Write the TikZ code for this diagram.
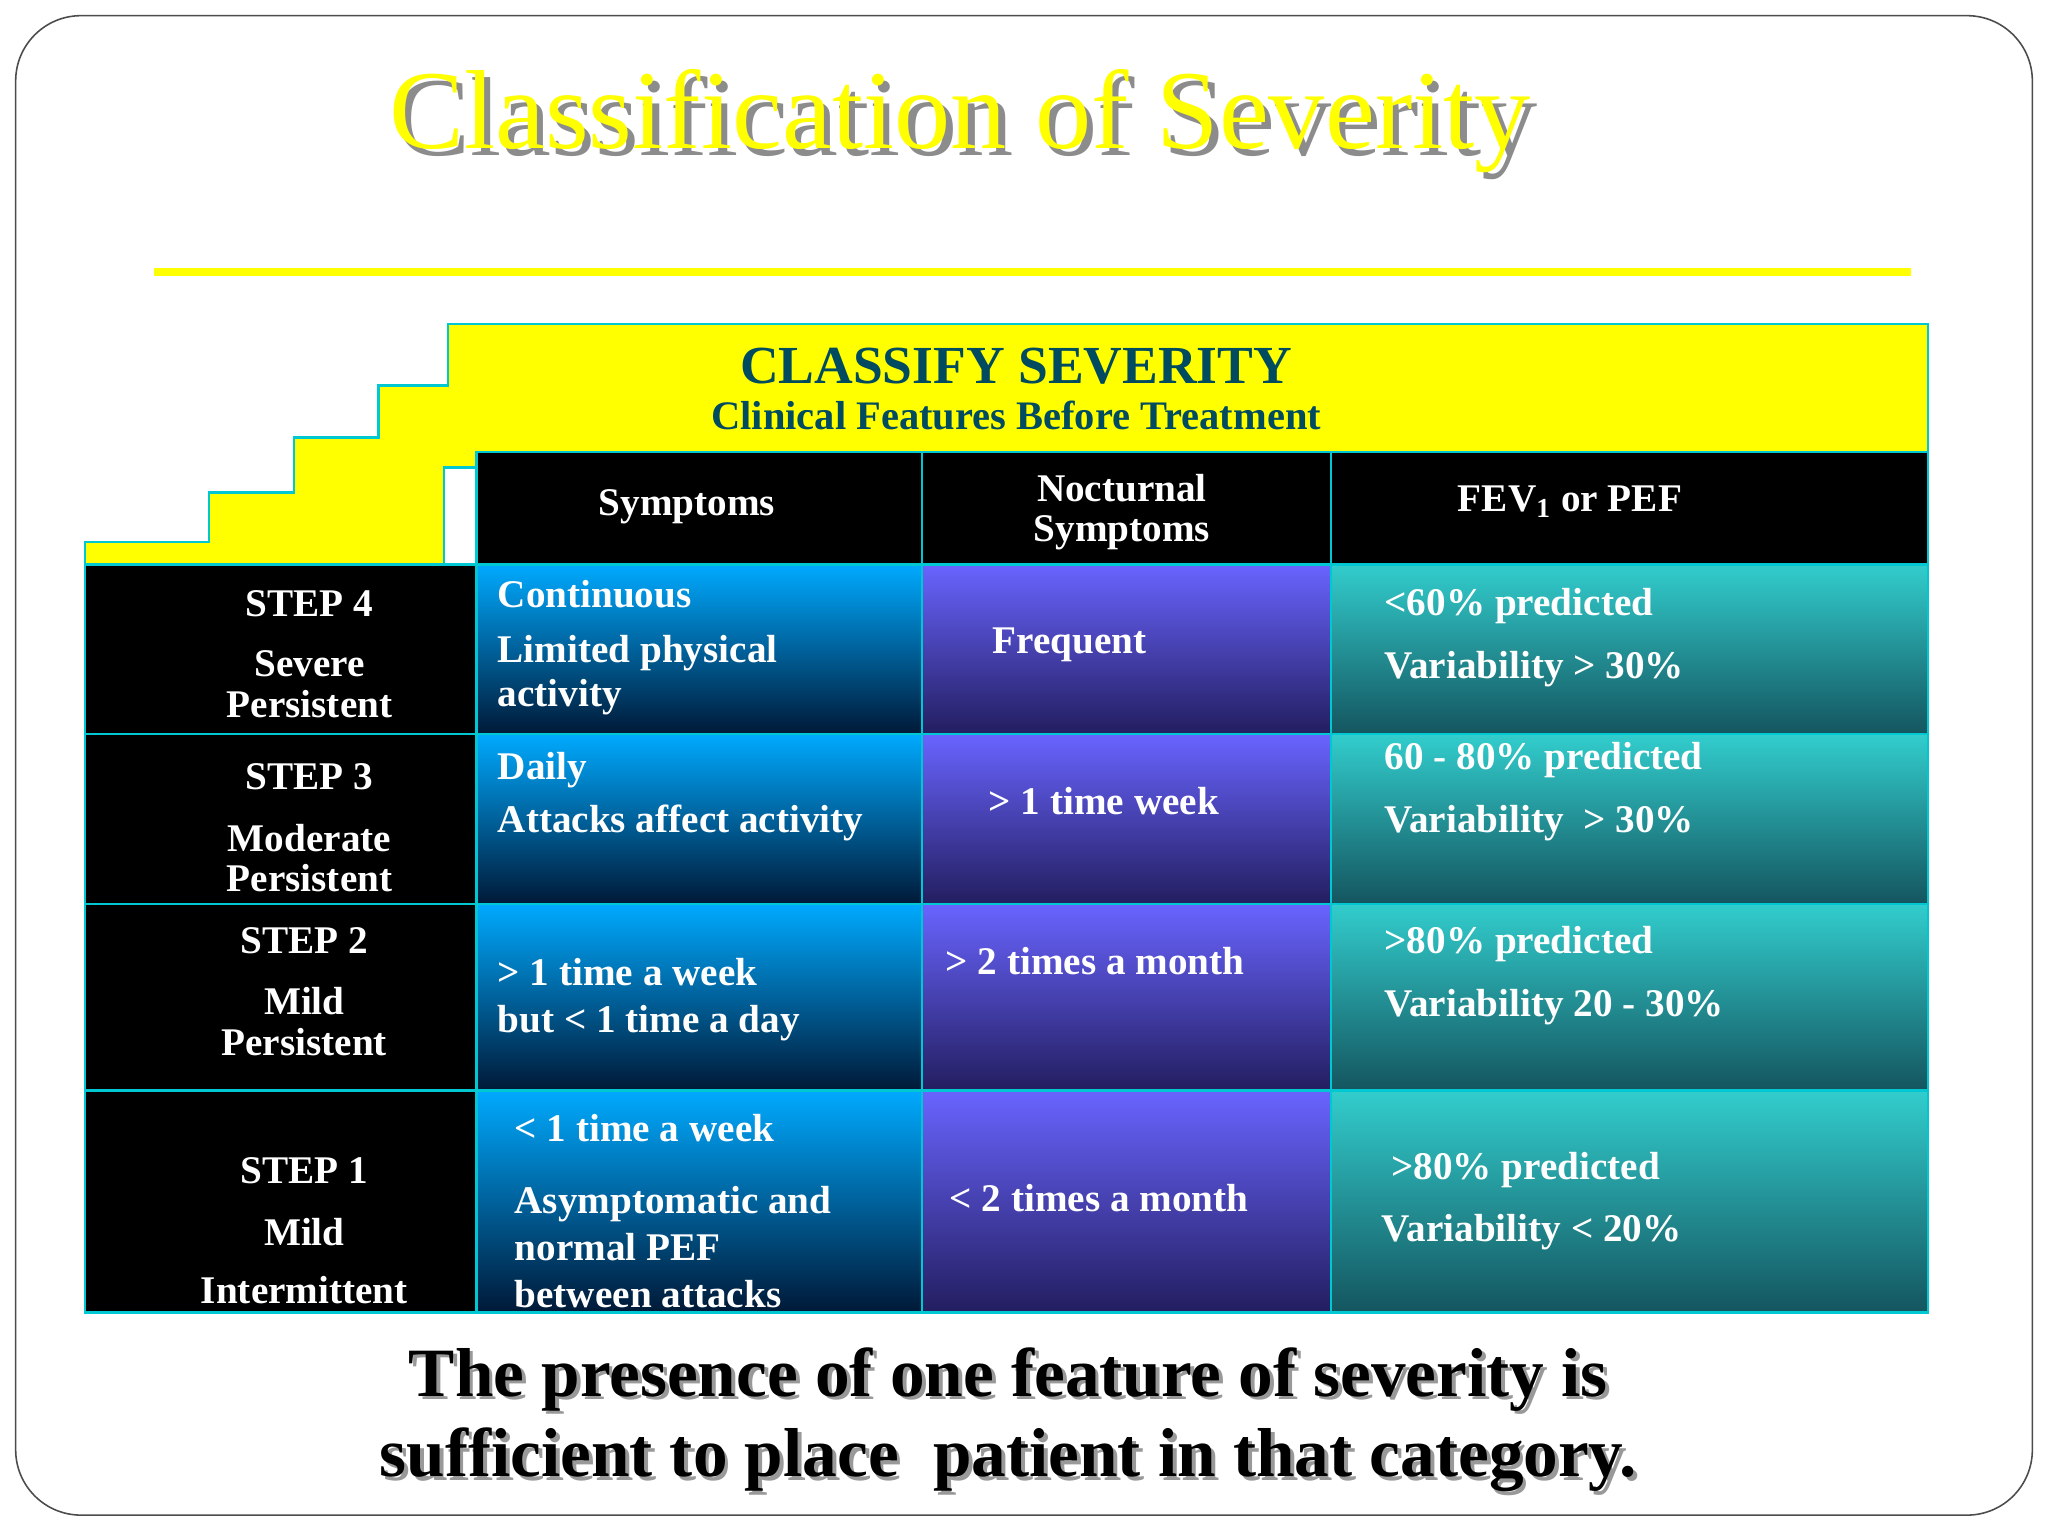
\documentclass[tikz,border=0pt]{standalone}
\usepackage{fontspec}
\setmainfont{Liberation Serif}
\definecolor{cy}{RGB}{0,200,210}
\definecolor{yl}{RGB}{255,255,0}
\definecolor{tl}{RGB}{0,75,95}
\definecolor{sA}{RGB}{0,170,255}\definecolor{sB}{RGB}{0,25,55}
\definecolor{nA}{RGB}{105,100,255}\definecolor{nB}{RGB}{35,30,95}
\definecolor{fA}{RGB}{50,205,205}\definecolor{fB}{RGB}{20,85,95}
\begin{document}
\begin{tikzpicture}[x=0.5pt,y=-0.5pt,
  cell/.style={draw=cy,line width=1pt},
  wt/.style={text=white,font=\bfseries\fontsize{15}{17}\selectfont,align=left},
  wc/.style={text=white,font=\bfseries\fontsize{15}{15.5}\selectfont,align=center}]
\useasboundingbox (0,0) rectangle (1568,1176);
\fill[white] (0,0) rectangle (1568,1176);
\draw[black!70,line width=0.6pt,rounded corners=25pt] (12,12) rectangle (1556,1160);
% title
\node[text=black!45,font=\fontsize{43}{48}\selectfont] at (740,98) {Classification of Severity};
\node (title)[text=yl,font=\fontsize{43}{48}\selectfont] at (735,93) {Classification of Severity};
\draw[yl,line width=3pt] (118,208) -- (1463,208);
% stairs
\filldraw[fill=yl,draw=cy,line width=1pt] (65,432) -- (65,415) -- (160,415) -- (160,377) -- (225,377) -- (225,335) -- (290,335) -- (290,295) -- (343,295) -- (343,248) -- (1476,248) -- (1476,346) -- (365,346) -- (365,432) -- cycle;
\filldraw[fill=white,draw=cy,line width=1pt] (340,358) rectangle (365,432);
\node (hd)[text=tl,font=\bfseries\fontsize{20.5}{22}\selectfont] at (778,280) {CLASSIFY SEVERITY};
\node (hs)[text=tl,font=\bfseries\fontsize{15.5}{17}\selectfont] at (778,318) {Clinical Features Before Treatment};
% header row
\foreach \a/\b in {365/706,706/1019,1019/1476}{\filldraw[fill=black,cell] (\a,346) rectangle (\b,432);}
\node (h1)[wc] at (526,388) {Symptoms};
\node (h2)[wc] at (859,392) {Nocturnal\\Symptoms};
\node (h3)[wc] at (1202,384) {FEV$_{\mathbf 1}$ or PEF};
% body rows
\foreach \t/\u in {432/562,562/692,692/835,835/1005}{
  \filldraw[fill=black,cell] (65,\t) rectangle (365,\u);
  \shade[top color=sA,bottom color=sB] (365,\t) rectangle (706,\u);
  \shade[top color=nA,bottom color=nB] (706,\t) rectangle (1019,\u);
  \shade[top color=fA,bottom color=fB] (1019,\t) rectangle (1476,\u);
  \draw[cell] (365,\t) rectangle (706,\u);
  \draw[cell] (706,\t) rectangle (1019,\u);
  \draw[cell] (1019,\t) rectangle (1476,\u);}
% step labels
\node (s4)[wc] at (237,462) {STEP 4};
\node (s4b)[wc] at (237,524) {Severe\\Persistent};
\node (s3)[wc] at (237,595) {STEP 3};
\node (s3b)[wc] at (237,657) {Moderate\\Persistent};
\node (s2)[wc] at (233,720) {STEP 2};
\node (s2b)[wc] at (233,782) {Mild\\Persistent};
\node (s1)[wc] at (233,896) {STEP 1};
\node (s1b)[wc] at (233,943) {Mild};
\node (s1c)[wc] at (233,988) {Intermittent};
% symptoms
\node (a4)[wt,anchor=west] at (374,455) {Continuous};
\node (a4b)[wt,anchor=west] at (374,517) {Limited physical\\activity};
\node (a3)[wt,anchor=west] at (374,590) {Daily};
\node (a3b)[wt,anchor=west] at (374,630) {Attacks affect activity};
\node (a2)[wt,anchor=west] at (374,765) {> 1 time a week\\[1pt]but < 1 time a day};
\node (a1)[wt,anchor=west] at (387,864) {< 1 time a week};
\node (a1b)[wt,anchor=west] at (387,955) {Asymptomatic and\\[1pt]normal PEF\\[1pt]between attacks};
% nocturnal
\node (b4)[wt,anchor=west] at (753,494) {Frequent};
\node (b3)[wt,anchor=west] at (750,613) {> 1 time week};
\node (b2)[wt,anchor=west] at (717,736) {> 2 times a month};
\node (b1)[wt,anchor=west] at (720,917) {< 2 times a month};
% FEV
\node (c4)[wt,anchor=west] at (1053,464) {<60\% predicted};
\node (c4b)[wt,anchor=west] at (1053,512) {Variability > 30\%};
\node (c3)[wt,anchor=west] at (1053,582) {60 - 80\% predicted};
\node (c3b)[wt,anchor=west] at (1053,630) {Variability~ > 30\%};
\node (c2)[wt,anchor=west] at (1053,723) {>80\% predicted};
\node (c2b)[wt,anchor=west] at (1053,771) {Variability 20 - 30\%};
\node (c1)[wt,anchor=west] at (1058,896) {>80\% predicted};
\node (c1b)[wt,anchor=west] at (1051,943) {Variability < 20\%};
% bottom
\node[text=black!40,font=\bfseries\fontsize{26.5}{31}\selectfont,align=center] at (775,1090) {The presence of one feature of severity is\\sufficient to place~ patient in that category.};
\node (foot)[text=black,font=\bfseries\fontsize{26.5}{31}\selectfont,align=center] at (772,1087) {The presence of one feature of severity is\\sufficient to place~ patient in that category.};
\end{tikzpicture}
\end{document}
